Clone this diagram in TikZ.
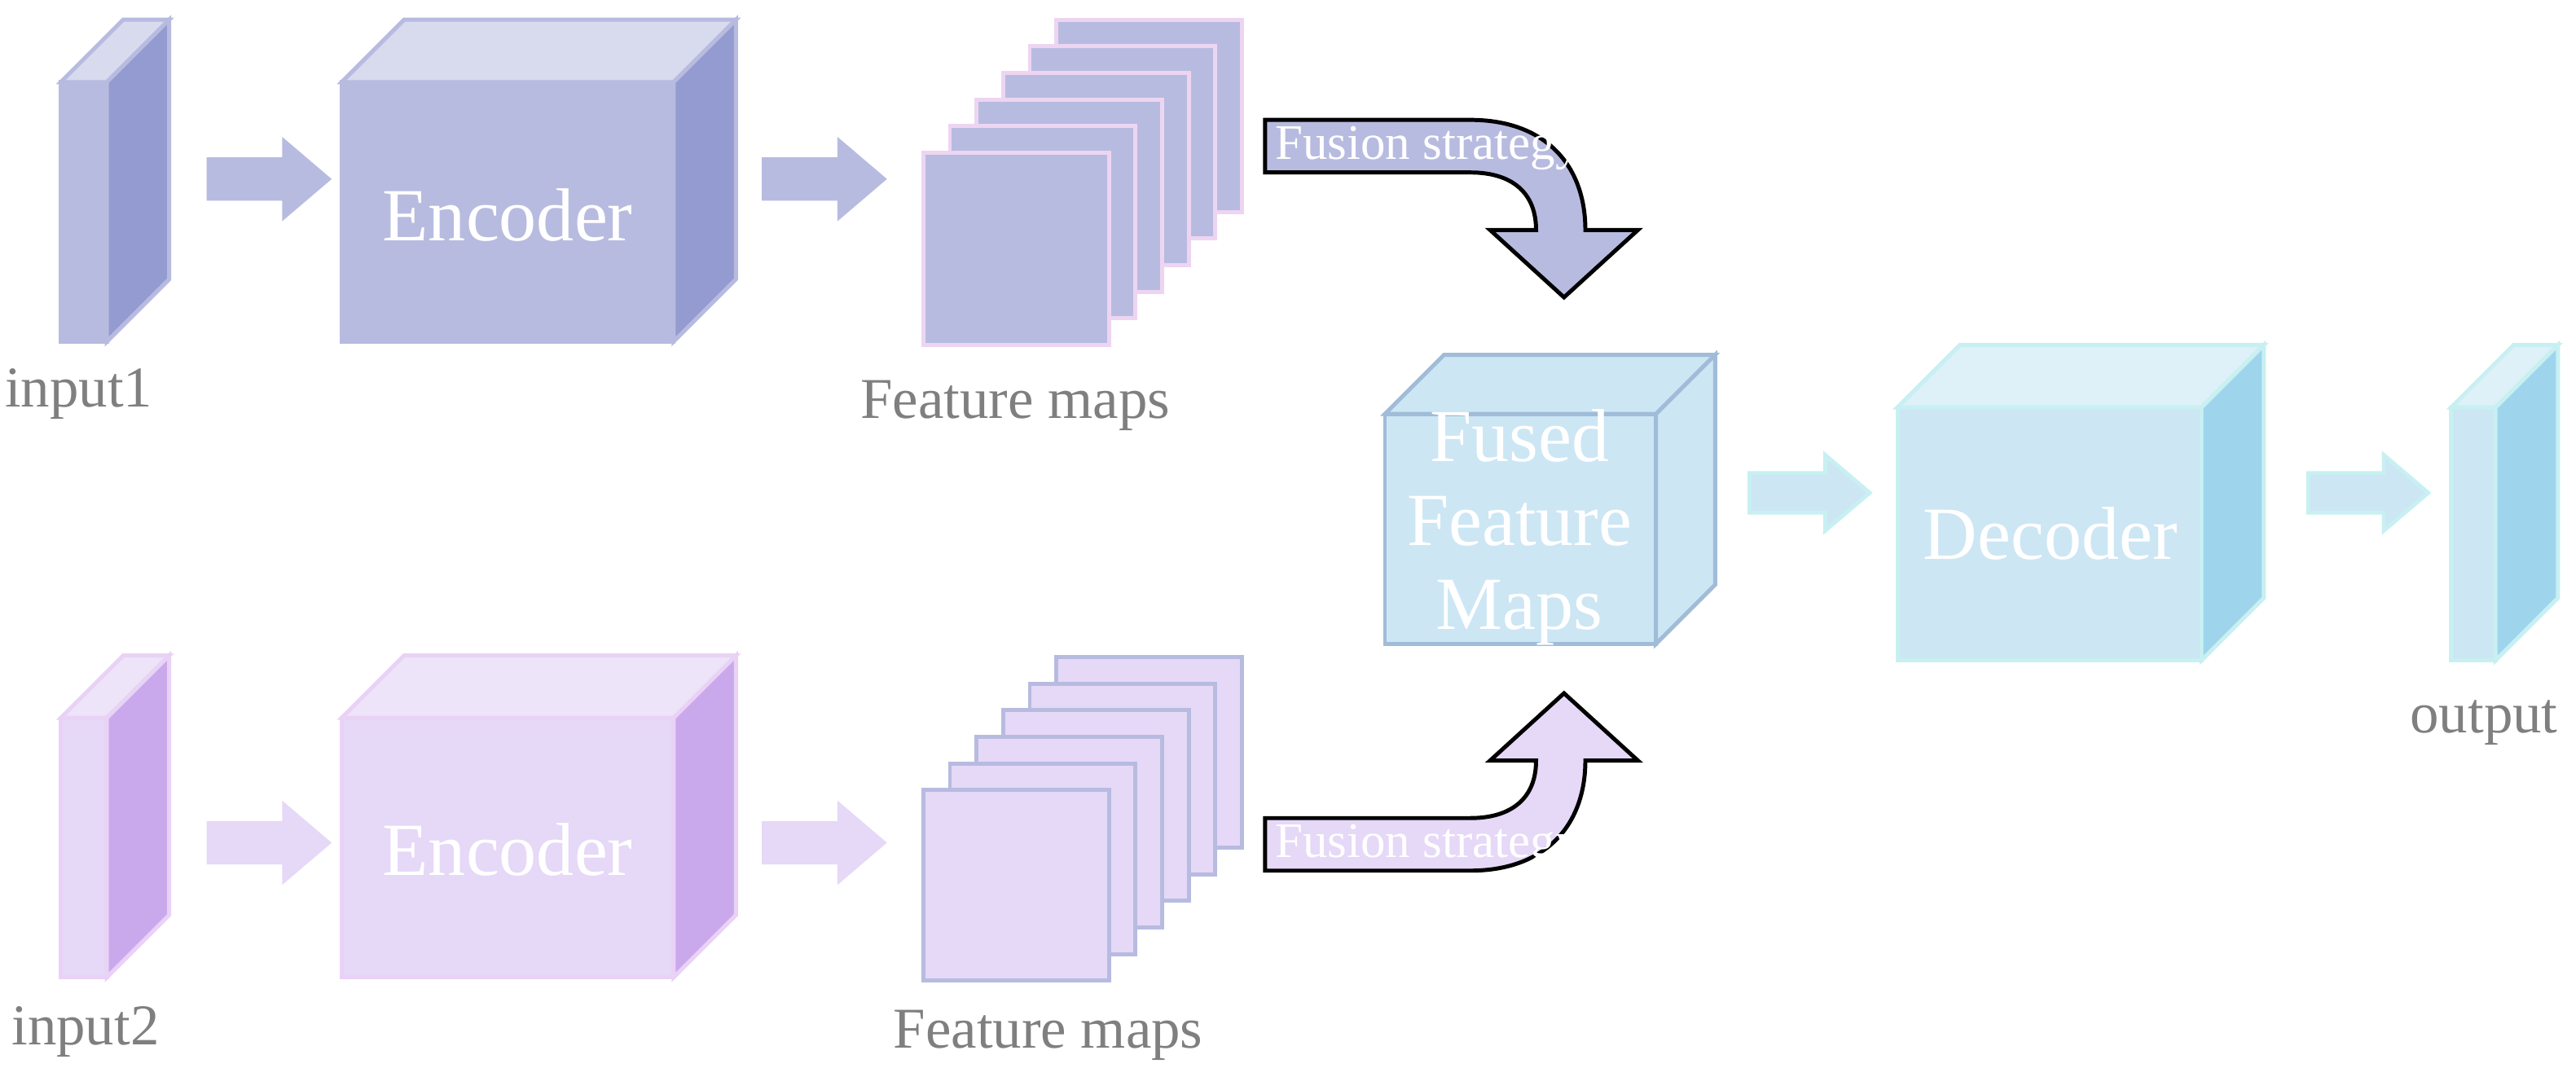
\documentclass[tikz,border=0pt]{standalone}
\usepackage{fontspec}
\setmainfont{Liberation Serif}
\usetikzlibrary{positioning}

\definecolor{upfront}{HTML}{B8BBE0}
\definecolor{uptop}{HTML}{D8DAEE}
\definecolor{upside}{HTML}{949BD0}
\definecolor{uppink}{HTML}{EDD5F2}
\definecolor{lofront}{HTML}{E6D8F7}
\definecolor{lotop}{HTML}{EEE4F9}
\definecolor{loside}{HTML}{C9A9EC}
\definecolor{lostroke}{HTML}{E9D2F6}
\definecolor{defront}{HTML}{CCE6F4}
\definecolor{detop}{HTML}{DEF0F8}
\definecolor{deside}{HTML}{9FD5EC}
\definecolor{destroke}{HTML}{C8F0F2}
\definecolor{fustroke}{HTML}{A0BCD8}
\definecolor{labelgray}{HTML}{7F7F7F}

% cuboid: x, y (front top left), width, height, depth, front, top, side, stroke
\newcommand{\cuboid}[9]{
  \filldraw[fill=#6,draw=#9] (#1,#2) rectangle ++(#3,#4);
  \filldraw[fill=#7,draw=#9] (#1,#2) -- ++(#5,-#5) -- ++(#3,0) -- ++(-#5,#5) -- cycle;
  \filldraw[fill=#8,draw=#9] (#1+#3,#2) -- ++(#5,-#5) -- ++(0,#4) -- ++(-#5,#5) -- cycle;
}
% block arrow: x, y (centre), fill, stroke
\newcommand{\blockarrow}[4]{
  \filldraw[fill=#3,draw=#4] (#1,#2-12) -- ++(46,0) -- ++(0,-11) -- ++(27,23)
    -- ++(-27,23) -- ++(0,-11) -- ++(-46,0) -- cycle;
}

\begin{document}
\begin{tikzpicture}[x=0.1mm,y=-0.1mm,line width=0.7pt,line join=miter]
  \tikzset{lbl/.style = {text=labelgray,font=\fontsize{10}{12}\selectfont},
           inner/.style = {text=white,font=\fontsize{13}{15}\selectfont},
           fus/.style = {text=white,font=\fontsize{8.6}{10}\selectfont,inner sep=0pt}}
  \useasboundingbox (0,0) rectangle (1568,650);

  % upper branch
  \cuboid{37}{50}{28}{158}{38}{upfront}{uptop}{upside}{upfront}
  \blockarrow{127}{109}{upfront}{upfront}
  \cuboid{208}{50}{202}{158}{38}{upfront}{uptop}{upside}{upfront}
  \blockarrow{465}{109}{upfront}{upfront}
  \foreach \i in {5,4,...,0}
    \filldraw[fill=upfront,draw=uppink] (562+16.2*\i,93-16.2*\i) rectangle ++(113,117);
  \filldraw[fill=upfront] (770,73) -- (895,73) .. controls (940,73) and (965,100) .. (965,140)
    -- (997,140) -- (952,181) -- (907,140) -- (935,140)
    .. controls (935,117) and (920,105) .. (895,105) -- (770,105) -- cycle;

  \node[inner] (enc1) at (309,131) {Encoder};
  \node[lbl] (in1) at (48,240) {input1};
  \node[lbl] (fm1) at (618,247) {Feature maps};
  \node[fus,anchor=west] (fs1) at (775,90) {Fusion strategy};

  % lower branch
  \cuboid{37}{437}{28}{158}{38}{lofront}{lotop}{loside}{lostroke}
  \blockarrow{127}{513}{lofront}{lofront}
  \cuboid{208}{437}{202}{158}{38}{lofront}{lotop}{loside}{lostroke}
  \blockarrow{465}{513}{lofront}{lofront}
  \foreach \i in {5,4,...,0}
    \filldraw[fill=lofront,draw=upfront] (562+16.2*\i,481-16.2*\i) rectangle ++(113,116);
  \filldraw[fill=lofront] (770,530) -- (895,530) .. controls (940,530) and (965,503) .. (965,463)
    -- (997,463) -- (952,422) -- (907,463) -- (935,463)
    .. controls (935,486) and (920,498) .. (895,498) -- (770,498) -- cycle;

  \node[inner] (enc2) at (309,517) {Encoder};
  \node[lbl] (in2) at (52,628) {input2};
  \node[lbl] (fm2) at (638,630) {Feature maps};
  \node[fus,anchor=west] (fs2) at (775,515) {Fusion strategy};

  % fusion and decoding
  \cuboid{843}{252}{165}{140}{36}{defront}{defront}{defront}{fustroke}
  \node[inner,align=center,font=\fontsize{13}{14.5}\selectfont] (fused) at (925,321) {Fused\\Feature\\Maps};
  \blockarrow{1065}{300}{defront}{destroke}
  \cuboid{1155}{248}{185}{154}{38}{defront}{detop}{deside}{destroke}
  \node[inner] (dec) at (1248,325) {Decoder};
  \blockarrow{1405}{300}{defront}{destroke}
  \cuboid{1492}{248}{27}{154}{38}{defront}{detop}{deside}{destroke}
  \node[lbl] (out) at (1512,440) {output};
\end{tikzpicture}
\end{document}
